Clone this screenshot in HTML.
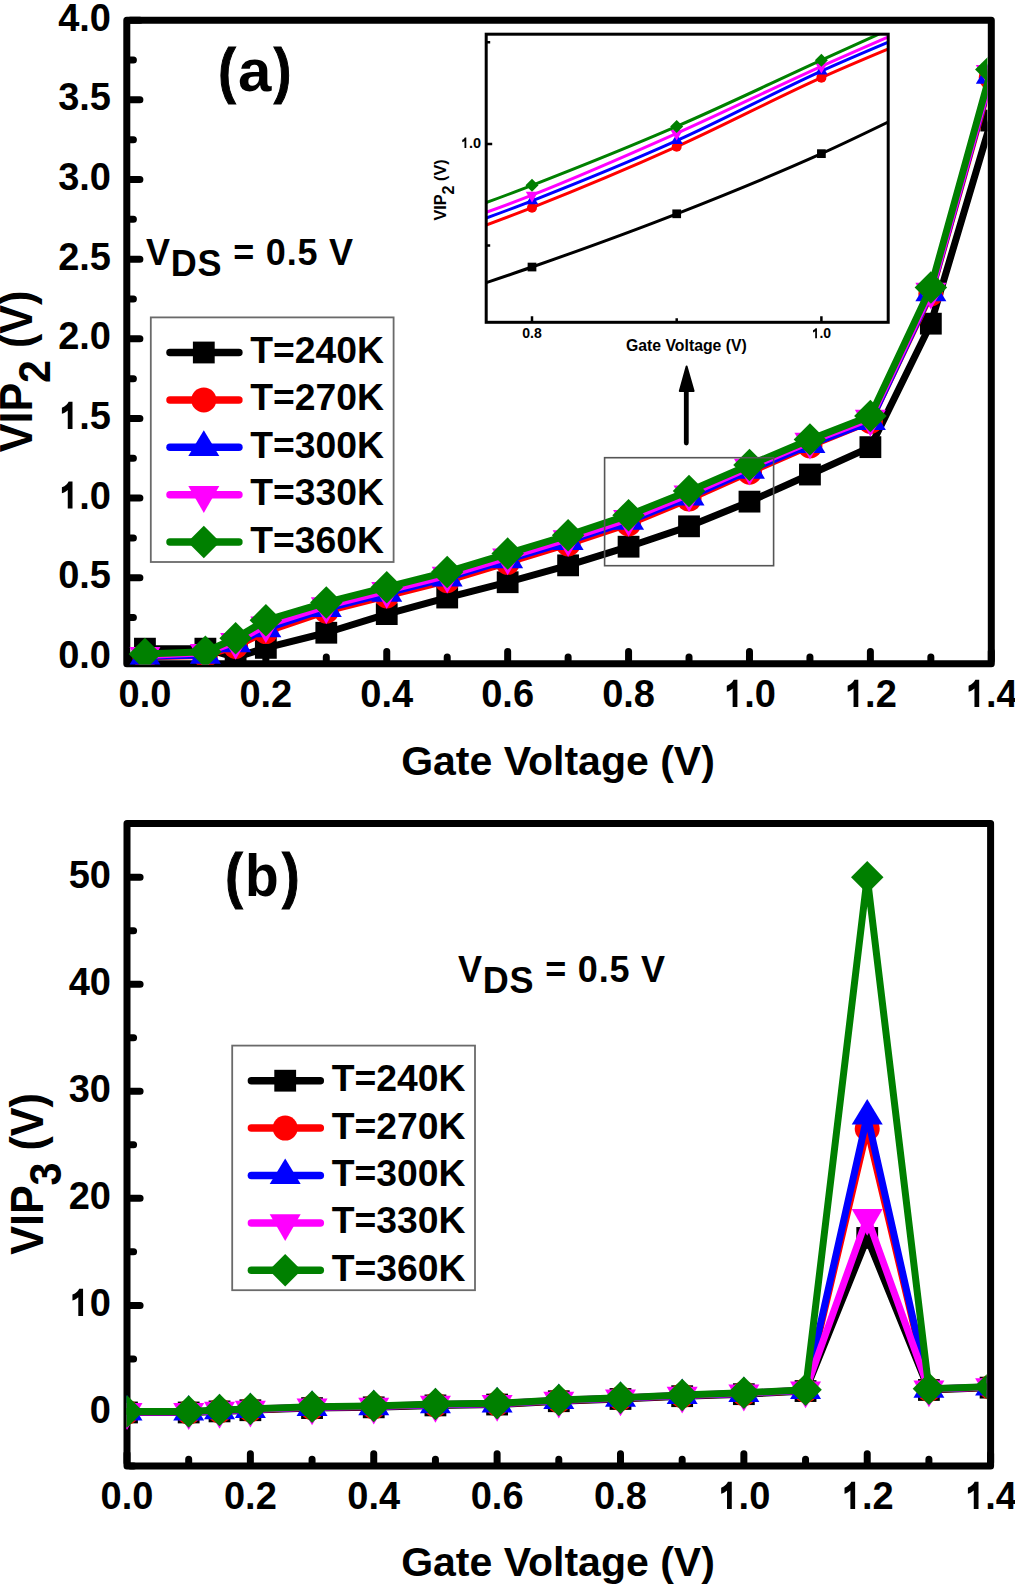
<!DOCTYPE html>
<html><head><meta charset="utf-8"><style>
html,body{margin:0;padding:0;background:#fff;}
svg{display:block;}
text{font-family:"Liberation Sans",sans-serif;font-weight:bold;}
</style></head><body>
<svg width="1015" height="1587" viewBox="0 0 1015 1587">
<rect width="1015" height="1587" fill="#fff"/>
<path d="M144.94,660.30v-8.8 M205.39,660.30v-3.3 M265.85,660.30v-8.8 M326.30,660.30v-3.3 M386.75,660.30v-8.8 M447.21,660.30v-3.3 M507.66,660.30v-8.8 M568.12,660.30v-3.3 M628.57,660.30v-8.8 M689.03,660.30v-3.3 M749.48,660.30v-8.8 M809.94,660.30v-3.3 M870.39,660.30v-8.8 M930.85,660.30v-3.3 M991.30,660.30v-8.8 M130.30,657.43h9.6 M130.30,617.60h3.1 M130.30,577.77h9.6 M130.30,537.95h3.1 M130.30,498.12h9.6 M130.30,458.29h3.1 M130.30,418.47h9.6 M130.30,378.64h3.1 M130.30,338.81h9.6 M130.30,298.99h3.1 M130.30,259.16h9.6 M130.30,219.33h3.1 M130.30,179.51h9.6 M130.30,139.68h3.1 M130.30,99.85h9.6 M130.30,60.03h3.1 M130.30,20.20h9.6" stroke="#000" stroke-width="7" stroke-linecap="round" fill="none"/>
<rect x="126.8" y="20.2" width="864.5" height="643.5999999999999" fill="none" stroke="#000" stroke-width="7" stroke-linejoin="round"/>
<clipPath id="ca"><rect x="126.1" y="23.7" width="861.3" height="640.9999999999999"/></clipPath>
<g clip-path="url(#ca)">
<polyline points="144.94,648.67 205.39,648.67 235.62,657.43 265.85,647.87 326.30,632.74 386.75,614.10 447.21,597.53 507.66,582.23 568.12,565.35 628.57,546.71 689.03,526.32 749.48,501.63 809.94,474.54 870.39,447.14 930.85,323.68 991.30,120.56" fill="none" stroke="#000000" stroke-width="7" stroke-linejoin="round" stroke-linecap="round"/>
<rect x="134.04" y="637.77" width="21.80" height="21.80" fill="#000000"/>
<rect x="194.49" y="637.77" width="21.80" height="21.80" fill="#000000"/>
<rect x="224.72" y="646.53" width="21.80" height="21.80" fill="#000000"/>
<rect x="254.95" y="636.97" width="21.80" height="21.80" fill="#000000"/>
<rect x="315.40" y="621.84" width="21.80" height="21.80" fill="#000000"/>
<rect x="375.85" y="603.20" width="21.80" height="21.80" fill="#000000"/>
<rect x="436.31" y="586.63" width="21.80" height="21.80" fill="#000000"/>
<rect x="496.76" y="571.33" width="21.80" height="21.80" fill="#000000"/>
<rect x="557.22" y="554.45" width="21.80" height="21.80" fill="#000000"/>
<rect x="617.67" y="535.81" width="21.80" height="21.80" fill="#000000"/>
<rect x="678.13" y="515.42" width="21.80" height="21.80" fill="#000000"/>
<rect x="738.58" y="490.73" width="21.80" height="21.80" fill="#000000"/>
<rect x="799.04" y="463.64" width="21.80" height="21.80" fill="#000000"/>
<rect x="859.49" y="436.24" width="21.80" height="21.80" fill="#000000"/>
<rect x="919.95" y="312.78" width="21.80" height="21.80" fill="#000000"/>
<rect x="980.40" y="109.66" width="21.80" height="21.80" fill="#000000"/>
<polyline points="144.94,656.63 205.39,655.52 235.62,646.44 265.85,631.62 326.30,611.23 386.75,595.94 447.21,580.64 507.66,562.32 568.12,544.00 628.57,523.93 689.03,499.08 749.48,472.15 809.94,445.87 870.39,421.33 930.85,293.89 991.30,77.55" fill="none" stroke="#ff0000" stroke-width="7" stroke-linejoin="round" stroke-linecap="round"/>
<circle cx="144.94" cy="656.63" r="12.50" fill="#ff0000"/>
<circle cx="205.39" cy="655.52" r="12.50" fill="#ff0000"/>
<circle cx="235.62" cy="646.44" r="12.50" fill="#ff0000"/>
<circle cx="265.85" cy="631.62" r="12.50" fill="#ff0000"/>
<circle cx="326.30" cy="611.23" r="12.50" fill="#ff0000"/>
<circle cx="386.75" cy="595.94" r="12.50" fill="#ff0000"/>
<circle cx="447.21" cy="580.64" r="12.50" fill="#ff0000"/>
<circle cx="507.66" cy="562.32" r="12.50" fill="#ff0000"/>
<circle cx="568.12" cy="544.00" r="12.50" fill="#ff0000"/>
<circle cx="628.57" cy="523.93" r="12.50" fill="#ff0000"/>
<circle cx="689.03" cy="499.08" r="12.50" fill="#ff0000"/>
<circle cx="749.48" cy="472.15" r="12.50" fill="#ff0000"/>
<circle cx="809.94" cy="445.87" r="12.50" fill="#ff0000"/>
<circle cx="870.39" cy="421.33" r="12.50" fill="#ff0000"/>
<circle cx="930.85" cy="293.89" r="12.50" fill="#ff0000"/>
<circle cx="991.30" cy="77.55" r="12.50" fill="#ff0000"/>
<polyline points="144.94,656.15 205.39,655.04 235.62,643.57 265.85,628.59 326.30,608.52 386.75,593.23 447.21,577.93 507.66,559.61 568.12,541.29 628.57,521.22 689.03,496.85 749.48,470.08 809.94,444.43 870.39,421.33 930.85,292.61 991.30,75.16" fill="none" stroke="#0000ff" stroke-width="7" stroke-linejoin="round" stroke-linecap="round"/>
<polygon points="144.94,639.15 160.44,664.75 129.44,664.75" fill="#0000ff"/>
<polygon points="205.39,638.04 220.89,663.64 189.89,663.64" fill="#0000ff"/>
<polygon points="235.62,626.57 251.12,652.17 220.12,652.17" fill="#0000ff"/>
<polygon points="265.85,611.59 281.35,637.19 250.35,637.19" fill="#0000ff"/>
<polygon points="326.30,591.52 341.80,617.12 310.80,617.12" fill="#0000ff"/>
<polygon points="386.75,576.23 402.25,601.83 371.25,601.83" fill="#0000ff"/>
<polygon points="447.21,560.93 462.71,586.53 431.71,586.53" fill="#0000ff"/>
<polygon points="507.66,542.61 523.16,568.21 492.16,568.21" fill="#0000ff"/>
<polygon points="568.12,524.29 583.62,549.89 552.62,549.89" fill="#0000ff"/>
<polygon points="628.57,504.22 644.07,529.82 613.07,529.82" fill="#0000ff"/>
<polygon points="689.03,479.85 704.53,505.45 673.53,505.45" fill="#0000ff"/>
<polygon points="749.48,453.08 764.98,478.68 733.98,478.68" fill="#0000ff"/>
<polygon points="809.94,427.43 825.44,453.03 794.44,453.03" fill="#0000ff"/>
<polygon points="870.39,404.33 885.89,429.93 854.89,429.93" fill="#0000ff"/>
<polygon points="930.85,275.61 946.35,301.21 915.35,301.21" fill="#0000ff"/>
<polygon points="991.30,58.16 1006.80,83.76 975.80,83.76" fill="#0000ff"/>
<polyline points="144.94,655.52 205.39,652.65 235.62,641.66 265.85,625.09 326.30,605.97 386.75,590.68 447.21,575.38 507.66,557.06 568.12,538.74 628.57,518.67 689.03,493.98 749.48,467.37 809.94,441.41 870.39,418.47 930.85,291.34 991.30,73.57" fill="none" stroke="#ff00ff" stroke-width="7" stroke-linejoin="round" stroke-linecap="round"/>
<polygon points="129.44,646.92 160.44,646.92 144.94,673.72" fill="#ff00ff"/>
<polygon points="189.89,644.05 220.89,644.05 205.39,670.85" fill="#ff00ff"/>
<polygon points="220.12,633.06 251.12,633.06 235.62,659.86" fill="#ff00ff"/>
<polygon points="250.35,616.49 281.35,616.49 265.85,643.29" fill="#ff00ff"/>
<polygon points="310.80,597.37 341.80,597.37 326.30,624.17" fill="#ff00ff"/>
<polygon points="371.25,582.08 402.25,582.08 386.75,608.88" fill="#ff00ff"/>
<polygon points="431.71,566.78 462.71,566.78 447.21,593.58" fill="#ff00ff"/>
<polygon points="492.16,548.46 523.16,548.46 507.66,575.26" fill="#ff00ff"/>
<polygon points="552.62,530.14 583.62,530.14 568.12,556.94" fill="#ff00ff"/>
<polygon points="613.07,510.07 644.07,510.07 628.57,536.87" fill="#ff00ff"/>
<polygon points="673.53,485.38 704.53,485.38 689.03,512.18" fill="#ff00ff"/>
<polygon points="733.98,458.77 764.98,458.77 749.48,485.57" fill="#ff00ff"/>
<polygon points="794.44,432.81 825.44,432.81 809.94,459.61" fill="#ff00ff"/>
<polygon points="854.89,409.87 885.89,409.87 870.39,436.67" fill="#ff00ff"/>
<polygon points="915.35,282.74 946.35,282.74 930.85,309.54" fill="#ff00ff"/>
<polygon points="975.80,64.97 1006.80,64.97 991.30,91.77" fill="#ff00ff"/>
<polyline points="144.94,653.92 205.39,651.69 235.62,638.31 265.85,620.31 326.30,602.47 386.75,587.17 447.21,571.88 507.66,553.56 568.12,535.24 628.57,515.17 689.03,491.11 749.48,464.98 809.94,439.50 870.39,416.08 930.85,287.52 991.30,69.59" fill="none" stroke="#008000" stroke-width="7" stroke-linejoin="round" stroke-linecap="round"/>
<polygon points="144.94,637.67 161.19,653.92 144.94,670.17 128.69,653.92" fill="#008000"/>
<polygon points="205.39,635.44 221.64,651.69 205.39,667.94 189.14,651.69" fill="#008000"/>
<polygon points="235.62,622.06 251.87,638.31 235.62,654.56 219.37,638.31" fill="#008000"/>
<polygon points="265.85,604.06 282.10,620.31 265.85,636.56 249.60,620.31" fill="#008000"/>
<polygon points="326.30,586.22 342.55,602.47 326.30,618.72 310.05,602.47" fill="#008000"/>
<polygon points="386.75,570.92 403.00,587.17 386.75,603.42 370.50,587.17" fill="#008000"/>
<polygon points="447.21,555.63 463.46,571.88 447.21,588.13 430.96,571.88" fill="#008000"/>
<polygon points="507.66,537.31 523.91,553.56 507.66,569.81 491.41,553.56" fill="#008000"/>
<polygon points="568.12,518.99 584.37,535.24 568.12,551.49 551.87,535.24" fill="#008000"/>
<polygon points="628.57,498.92 644.82,515.17 628.57,531.42 612.32,515.17" fill="#008000"/>
<polygon points="689.03,474.86 705.28,491.11 689.03,507.36 672.78,491.11" fill="#008000"/>
<polygon points="749.48,448.73 765.73,464.98 749.48,481.23 733.23,464.98" fill="#008000"/>
<polygon points="809.94,423.25 826.19,439.50 809.94,455.75 793.69,439.50" fill="#008000"/>
<polygon points="870.39,399.83 886.64,416.08 870.39,432.33 854.14,416.08" fill="#008000"/>
<polygon points="930.85,271.27 947.10,287.52 930.85,303.77 914.60,287.52" fill="#008000"/>
<polygon points="991.30,53.34 1007.55,69.59 991.30,85.84 975.05,69.59" fill="#008000"/>
</g>
<text x="144.94" y="707.00" font-size="38" text-anchor="middle">0.0</text>
<text x="265.85" y="707.00" font-size="38" text-anchor="middle">0.2</text>
<text x="386.75" y="707.00" font-size="38" text-anchor="middle">0.4</text>
<text x="507.66" y="707.00" font-size="38" text-anchor="middle">0.6</text>
<text x="628.57" y="707.00" font-size="38" text-anchor="middle">0.8</text>
<path d="M737.39,707.00 L732.64,707.00 L732.64,688.45 C731.05,689.84 729.01,691.04 726.78,691.69 L726.78,685.66 C728.45,685.01 730.12,683.99 731.42,682.79 C732.44,681.77 733.09,680.65 733.55,679.80 L737.39,679.80Z" fill="#000"/><text x="744.20" y="707.00" font-size="38">.0</text>
<path d="M858.30,707.00 L853.55,707.00 L853.55,688.45 C851.96,689.84 849.92,691.04 847.69,691.69 L847.69,685.66 C849.36,685.01 851.03,683.99 852.33,682.79 C853.35,681.77 854.00,680.65 854.46,679.80 L858.30,679.80Z" fill="#000"/><text x="865.11" y="707.00" font-size="38">.2</text>
<path d="M979.21,707.00 L974.46,707.00 L974.46,688.45 C972.87,689.84 970.82,691.04 968.60,691.69 L968.60,685.66 C970.27,685.01 971.94,683.99 973.24,682.79 C974.26,681.77 974.91,680.65 975.37,679.80 L979.21,679.80Z" fill="#000"/><text x="986.02" y="707.00" font-size="38">.4</text>
<text x="111.00" y="667.93" font-size="38" text-anchor="end">0.0</text>
<text x="111.00" y="588.27" font-size="38" text-anchor="end">0.5</text>
<path d="M72.50,508.62 L67.75,508.62 L67.75,490.07 C66.15,491.46 64.11,492.66 61.89,493.31 L61.89,487.28 C63.56,486.63 65.23,485.61 66.52,484.41 C67.54,483.39 68.19,482.27 68.66,481.42 L72.50,481.42Z" fill="#000"/><text x="79.31" y="508.62" font-size="38">.0</text>
<path d="M72.50,428.97 L67.75,428.97 L67.75,410.41 C66.15,411.80 64.11,413.01 61.89,413.66 L61.89,407.63 C63.56,406.98 65.23,405.96 66.52,404.75 C67.54,403.73 68.19,402.62 68.66,401.77 L72.50,401.77Z" fill="#000"/><text x="79.31" y="428.97" font-size="38">.5</text>
<text x="111.00" y="349.31" font-size="38" text-anchor="end">2.0</text>
<text x="111.00" y="269.66" font-size="38" text-anchor="end">2.5</text>
<text x="111.00" y="190.01" font-size="38" text-anchor="end">3.0</text>
<text x="111.00" y="110.35" font-size="38" text-anchor="end">3.5</text>
<text x="111.00" y="30.70" font-size="38" text-anchor="end">4.0</text>
<text x="558" y="775" font-size="41" text-anchor="middle">Gate Voltage (V)</text>
<text transform="translate(32,371.5) rotate(-90) scale(0.935,1)" font-size="46" text-anchor="middle">VIP<tspan font-size="44" dy="18">2</tspan><tspan dy="-18"> (V)</tspan></text>
<text transform="translate(218.2,91) scale(0.85,1)" font-size="62" font-weight="normal" stroke="#000" stroke-width="1.1">(</text><text x="238" y="91" font-size="60">a</text><text transform="translate(273.7,91) scale(0.85,1)" font-size="62" font-weight="normal" stroke="#000" stroke-width="1.1">)</text>
<text x="146" y="265" font-size="36" letter-spacing="0.8">V<tspan dy="11">DS</tspan><tspan dy="-11"> = 0.5 V</tspan></text>
<rect x="150.8" y="317.4" width="242.8" height="244.6" fill="#fff" stroke="#6a6a6a" stroke-width="1.8"/>
<line x1="170.0" y1="352.50" x2="238.9" y2="352.50" stroke="#000000" stroke-width="7.5" stroke-linecap="round"/>
<rect x="192.90" y="341.60" width="21.80" height="21.80" fill="#000000"/>
<text x="250.3" y="363.00" font-size="37.3">T=240K</text>
<line x1="170.0" y1="399.90" x2="238.9" y2="399.90" stroke="#ff0000" stroke-width="7.5" stroke-linecap="round"/>
<circle cx="203.80" cy="399.90" r="12.50" fill="#ff0000"/>
<text x="250.3" y="410.40" font-size="37.3">T=270K</text>
<line x1="170.0" y1="447.30" x2="238.9" y2="447.30" stroke="#0000ff" stroke-width="7.5" stroke-linecap="round"/>
<polygon points="203.80,430.30 219.30,455.90 188.30,455.90" fill="#0000ff"/>
<text x="250.3" y="457.80" font-size="37.3">T=300K</text>
<line x1="170.0" y1="494.70" x2="238.9" y2="494.70" stroke="#ff00ff" stroke-width="7.5" stroke-linecap="round"/>
<polygon points="188.30,486.10 219.30,486.10 203.80,512.90" fill="#ff00ff"/>
<text x="250.3" y="505.20" font-size="37.3">T=330K</text>
<line x1="170.0" y1="542.10" x2="238.9" y2="542.10" stroke="#008000" stroke-width="7.5" stroke-linecap="round"/>
<polygon points="203.80,525.85 220.05,542.10 203.80,558.35 187.55,542.10" fill="#008000"/>
<text x="250.3" y="552.60" font-size="37.3">T=360K</text>
<rect x="604.6" y="457.7" width="169" height="108" fill="none" stroke="#555" stroke-width="1.6"/>
<line x1="686.3" y1="443" x2="686.3" y2="388" stroke="#000" stroke-width="4.8" stroke-linecap="round"/>
<polygon points="686.6,366.5 693.6,391 679.8,391" fill="#000" stroke="#000" stroke-width="2" stroke-linejoin="round"/>
<clipPath id="ci"><rect x="486.2" y="34.2" width="402.00000000000006" height="288.1"/></clipPath>
<g clip-path="url(#ci)">
<path d="M387.30,315.40 C411.42,307.34 483.77,283.97 532.00,267.04 C580.23,250.11 628.47,232.70 676.70,213.80 C724.93,194.90 773.17,175.33 821.40,153.65 C869.63,131.98 941.98,95.40 966.10,83.75" fill="none" stroke="#000000" stroke-width="3"/>
<rect x="527.64" y="262.68" width="8.72" height="8.72" fill="#000000"/>
<rect x="672.34" y="209.44" width="8.72" height="8.72" fill="#000000"/>
<rect x="817.04" y="149.29" width="8.72" height="8.72" fill="#000000"/>
<path d="M387.30,260.94 C411.42,252.07 483.77,226.74 532.00,207.70 C580.23,188.67 628.47,168.42 676.70,146.74 C724.93,125.07 773.17,99.33 821.40,77.66 C869.63,55.98 941.98,26.86 966.10,16.70" fill="none" stroke="#ff0000" stroke-width="3"/>
<circle cx="532.00" cy="207.70" r="5.00" fill="#ff0000"/>
<circle cx="676.70" cy="146.74" r="5.00" fill="#ff0000"/>
<circle cx="821.40" cy="77.66" r="5.00" fill="#ff0000"/>
<path d="M387.30,254.03 C411.42,245.16 483.77,219.69 532.00,200.80 C580.23,181.90 628.47,162.26 676.70,140.65 C724.93,119.04 773.17,92.96 821.40,71.15 C869.63,49.34 941.98,20.02 966.10,9.79" fill="none" stroke="#0000ff" stroke-width="3"/>
<polygon points="532.00,194.00 538.20,204.24 525.80,204.24" fill="#0000ff"/>
<polygon points="676.70,133.85 682.90,144.09 670.50,144.09" fill="#0000ff"/>
<polygon points="821.40,64.35 827.60,74.59 815.20,74.59" fill="#0000ff"/>
<path d="M387.30,247.53 C411.42,238.79 483.77,214.14 532.00,195.11 C580.23,176.07 628.47,154.81 676.70,133.33 C724.93,111.86 773.17,87.95 821.40,66.28 C869.63,44.60 941.98,13.78 966.10,3.29" fill="none" stroke="#ff00ff" stroke-width="3"/>
<polygon points="525.80,191.67 538.20,191.67 532.00,202.39" fill="#ff00ff"/>
<polygon points="670.50,129.89 682.90,129.89 676.70,140.61" fill="#ff00ff"/>
<polygon points="815.20,62.84 827.60,62.84 821.40,73.56" fill="#ff00ff"/>
<path d="M387.30,238.59 C411.42,229.72 483.77,204.05 532.00,185.35 C580.23,166.66 628.47,147.29 676.70,126.42 C724.93,105.56 773.17,82.19 821.40,60.18 C869.63,38.17 941.98,5.32 966.10,-5.66" fill="none" stroke="#008000" stroke-width="3"/>
<polygon points="532.00,178.85 538.50,185.35 532.00,191.85 525.50,185.35" fill="#008000"/>
<polygon points="676.70,119.92 683.20,126.42 676.70,132.92 670.20,126.42" fill="#008000"/>
<polygon points="821.40,53.68 827.90,60.18 821.40,66.68 814.90,60.18" fill="#008000"/>
</g>
<path d="M532.00,322.3v-6 M676.70,322.3v-4 M821.40,322.3v-6 M486.2,143.90h6 M486.2,245.50h4 M486.2,42.30h4" stroke="#000" stroke-width="2.5"/>
<rect x="486.2" y="34.2" width="402.00000000000006" height="288.1" fill="none" stroke="#000" stroke-width="3"/>
<text x="532.00" y="338.2" font-size="14" text-anchor="middle">0.8</text>
<path d="M816.95,338.20 L815.20,338.20 L815.20,331.36 C814.61,331.88 813.86,332.32 813.04,332.56 L813.04,330.34 C813.65,330.10 814.27,329.72 814.75,329.28 C815.12,328.90 815.36,328.49 815.53,328.18 L816.95,328.18Z" fill="#000"/><text x="819.46" y="338.20" font-size="14">.0</text>
<path d="M466.31,148.00 L464.50,148.00 L464.50,140.92 C463.89,141.45 463.11,141.91 462.26,142.16 L462.26,139.86 C462.90,139.61 463.53,139.22 464.03,138.76 C464.42,138.37 464.67,137.95 464.84,137.62 L466.31,137.62Z" fill="#000"/><text x="468.91" y="148.00" font-size="14.5">.0</text>
<text x="686.4" y="351" font-size="15.8" text-anchor="middle">Gate Voltage (V)</text>
<text transform="translate(446,190) rotate(-90)" font-size="16.2" text-anchor="middle">VIP<tspan dy="7.6">2</tspan><tspan dy="-7.6"> (V)</tspan></text>
<path d="M127.00,1462.50v-8.8 M188.69,1462.50v-3.3 M250.37,1462.50v-8.8 M312.06,1462.50v-3.3 M373.74,1462.50v-8.8 M435.43,1462.50v-3.3 M497.11,1462.50v-8.8 M558.80,1462.50v-3.3 M620.49,1462.50v-8.8 M682.17,1462.50v-3.3 M743.86,1462.50v-8.8 M805.54,1462.50v-3.3 M867.23,1462.50v-8.8 M928.91,1462.50v-3.3 M990.60,1462.50v-8.8 M130.50,1466.00h3.1 M130.50,1412.47h9.6 M130.50,1358.93h3.1 M130.50,1305.40h9.6 M130.50,1251.87h3.1 M130.50,1198.33h9.6 M130.50,1144.80h3.1 M130.50,1091.27h9.6 M130.50,1037.73h3.1 M130.50,984.20h9.6 M130.50,930.67h3.1 M130.50,877.13h9.6" stroke="#000" stroke-width="7" stroke-linecap="round" fill="none"/>
<rect x="127.0" y="823.6" width="863.6" height="642.4" fill="none" stroke="#000" stroke-width="7" stroke-linejoin="round"/>
<clipPath id="cb"><rect x="126.3" y="827.1" width="860.4000000000001" height="639.8000000000001"/></clipPath>
<g clip-path="url(#cb)">
<polyline points="127.00,1412.47 188.69,1412.47 219.53,1411.40 250.37,1410.22 312.06,1408.08 373.74,1407.33 435.43,1405.40 497.11,1404.54 558.80,1401.22 620.49,1398.98 682.17,1396.19 743.86,1394.16 805.54,1391.05 867.23,1237.95 928.91,1389.98 990.60,1387.63" fill="none" stroke="#000000" stroke-width="7" stroke-linejoin="round" stroke-linecap="round"/>
<rect x="116.10" y="1401.57" width="21.80" height="21.80" fill="#000000"/>
<rect x="177.79" y="1401.57" width="21.80" height="21.80" fill="#000000"/>
<rect x="208.63" y="1400.50" width="21.80" height="21.80" fill="#000000"/>
<rect x="239.47" y="1399.32" width="21.80" height="21.80" fill="#000000"/>
<rect x="301.16" y="1397.18" width="21.80" height="21.80" fill="#000000"/>
<rect x="362.84" y="1396.43" width="21.80" height="21.80" fill="#000000"/>
<rect x="424.53" y="1394.50" width="21.80" height="21.80" fill="#000000"/>
<rect x="486.21" y="1393.64" width="21.80" height="21.80" fill="#000000"/>
<rect x="547.90" y="1390.32" width="21.80" height="21.80" fill="#000000"/>
<rect x="609.59" y="1388.08" width="21.80" height="21.80" fill="#000000"/>
<rect x="671.27" y="1385.29" width="21.80" height="21.80" fill="#000000"/>
<rect x="732.96" y="1383.26" width="21.80" height="21.80" fill="#000000"/>
<rect x="794.64" y="1380.15" width="21.80" height="21.80" fill="#000000"/>
<rect x="856.33" y="1227.05" width="21.80" height="21.80" fill="#000000"/>
<rect x="918.01" y="1379.08" width="21.80" height="21.80" fill="#000000"/>
<rect x="979.70" y="1376.73" width="21.80" height="21.80" fill="#000000"/>
<polyline points="127.00,1412.15 188.69,1412.15 219.53,1410.86 250.37,1409.68 312.06,1407.54 373.74,1406.79 435.43,1404.86 497.11,1404.01 558.80,1400.69 620.49,1398.44 682.17,1395.66 743.86,1393.62 805.54,1390.52 867.23,1128.74 928.91,1389.45 990.60,1387.20" fill="none" stroke="#ff0000" stroke-width="7" stroke-linejoin="round" stroke-linecap="round"/>
<circle cx="127.00" cy="1412.15" r="12.50" fill="#ff0000"/>
<circle cx="188.69" cy="1412.15" r="12.50" fill="#ff0000"/>
<circle cx="219.53" cy="1410.86" r="12.50" fill="#ff0000"/>
<circle cx="250.37" cy="1409.68" r="12.50" fill="#ff0000"/>
<circle cx="312.06" cy="1407.54" r="12.50" fill="#ff0000"/>
<circle cx="373.74" cy="1406.79" r="12.50" fill="#ff0000"/>
<circle cx="435.43" cy="1404.86" r="12.50" fill="#ff0000"/>
<circle cx="497.11" cy="1404.01" r="12.50" fill="#ff0000"/>
<circle cx="558.80" cy="1400.69" r="12.50" fill="#ff0000"/>
<circle cx="620.49" cy="1398.44" r="12.50" fill="#ff0000"/>
<circle cx="682.17" cy="1395.66" r="12.50" fill="#ff0000"/>
<circle cx="743.86" cy="1393.62" r="12.50" fill="#ff0000"/>
<circle cx="805.54" cy="1390.52" r="12.50" fill="#ff0000"/>
<circle cx="867.23" cy="1128.74" r="12.50" fill="#ff0000"/>
<circle cx="928.91" cy="1389.45" r="12.50" fill="#ff0000"/>
<circle cx="990.60" cy="1387.20" r="12.50" fill="#ff0000"/>
<polyline points="127.00,1411.93 188.69,1411.93 219.53,1410.65 250.37,1409.47 312.06,1407.33 373.74,1406.58 435.43,1404.65 497.11,1403.79 558.80,1400.48 620.49,1398.23 682.17,1395.44 743.86,1393.41 805.54,1390.30 867.23,1115.89 928.91,1389.23 990.60,1386.98" fill="none" stroke="#0000ff" stroke-width="7" stroke-linejoin="round" stroke-linecap="round"/>
<polygon points="127.00,1394.93 142.50,1420.53 111.50,1420.53" fill="#0000ff"/>
<polygon points="188.69,1394.93 204.19,1420.53 173.19,1420.53" fill="#0000ff"/>
<polygon points="219.53,1393.65 235.03,1419.25 204.03,1419.25" fill="#0000ff"/>
<polygon points="250.37,1392.47 265.87,1418.07 234.87,1418.07" fill="#0000ff"/>
<polygon points="312.06,1390.33 327.56,1415.93 296.56,1415.93" fill="#0000ff"/>
<polygon points="373.74,1389.58 389.24,1415.18 358.24,1415.18" fill="#0000ff"/>
<polygon points="435.43,1387.65 450.93,1413.25 419.93,1413.25" fill="#0000ff"/>
<polygon points="497.11,1386.79 512.61,1412.39 481.61,1412.39" fill="#0000ff"/>
<polygon points="558.80,1383.48 574.30,1409.08 543.30,1409.08" fill="#0000ff"/>
<polygon points="620.49,1381.23 635.99,1406.83 604.99,1406.83" fill="#0000ff"/>
<polygon points="682.17,1378.44 697.67,1404.04 666.67,1404.04" fill="#0000ff"/>
<polygon points="743.86,1376.41 759.36,1402.01 728.36,1402.01" fill="#0000ff"/>
<polygon points="805.54,1373.30 821.04,1398.90 790.04,1398.90" fill="#0000ff"/>
<polygon points="867.23,1098.89 882.73,1124.49 851.73,1124.49" fill="#0000ff"/>
<polygon points="928.91,1372.23 944.41,1397.83 913.41,1397.83" fill="#0000ff"/>
<polygon points="990.60,1369.98 1006.10,1395.58 975.10,1395.58" fill="#0000ff"/>
<polyline points="127.00,1411.72 188.69,1411.72 219.53,1410.43 250.37,1409.25 312.06,1407.11 373.74,1406.36 435.43,1404.44 497.11,1403.58 558.80,1400.26 620.49,1398.01 682.17,1395.23 743.86,1393.19 805.54,1390.09 867.23,1217.61 928.91,1389.02 990.60,1386.77" fill="none" stroke="#ff00ff" stroke-width="7" stroke-linejoin="round" stroke-linecap="round"/>
<polygon points="111.50,1403.12 142.50,1403.12 127.00,1429.92" fill="#ff00ff"/>
<polygon points="173.19,1403.12 204.19,1403.12 188.69,1429.92" fill="#ff00ff"/>
<polygon points="204.03,1401.83 235.03,1401.83 219.53,1428.63" fill="#ff00ff"/>
<polygon points="234.87,1400.65 265.87,1400.65 250.37,1427.45" fill="#ff00ff"/>
<polygon points="296.56,1398.51 327.56,1398.51 312.06,1425.31" fill="#ff00ff"/>
<polygon points="358.24,1397.76 389.24,1397.76 373.74,1424.56" fill="#ff00ff"/>
<polygon points="419.93,1395.84 450.93,1395.84 435.43,1422.64" fill="#ff00ff"/>
<polygon points="481.61,1394.98 512.61,1394.98 497.11,1421.78" fill="#ff00ff"/>
<polygon points="543.30,1391.66 574.30,1391.66 558.80,1418.46" fill="#ff00ff"/>
<polygon points="604.99,1389.41 635.99,1389.41 620.49,1416.21" fill="#ff00ff"/>
<polygon points="666.67,1386.63 697.67,1386.63 682.17,1413.43" fill="#ff00ff"/>
<polygon points="728.36,1384.59 759.36,1384.59 743.86,1411.39" fill="#ff00ff"/>
<polygon points="790.04,1381.49 821.04,1381.49 805.54,1408.29" fill="#ff00ff"/>
<polygon points="851.73,1209.01 882.73,1209.01 867.23,1235.81" fill="#ff00ff"/>
<polygon points="913.41,1380.42 944.41,1380.42 928.91,1407.22" fill="#ff00ff"/>
<polygon points="975.10,1378.17 1006.10,1378.17 990.60,1404.97" fill="#ff00ff"/>
<polyline points="127.00,1411.40 188.69,1411.40 219.53,1410.11 250.37,1408.93 312.06,1406.79 373.74,1406.04 435.43,1404.12 497.11,1403.26 558.80,1399.94 620.49,1397.69 682.17,1394.91 743.86,1392.87 805.54,1389.77 867.23,877.13 928.91,1388.80 990.60,1386.56" fill="none" stroke="#008000" stroke-width="7" stroke-linejoin="round" stroke-linecap="round"/>
<polygon points="127.00,1395.15 143.25,1411.40 127.00,1427.65 110.75,1411.40" fill="#008000"/>
<polygon points="188.69,1395.15 204.94,1411.40 188.69,1427.65 172.44,1411.40" fill="#008000"/>
<polygon points="219.53,1393.86 235.78,1410.11 219.53,1426.36 203.28,1410.11" fill="#008000"/>
<polygon points="250.37,1392.68 266.62,1408.93 250.37,1425.18 234.12,1408.93" fill="#008000"/>
<polygon points="312.06,1390.54 328.31,1406.79 312.06,1423.04 295.81,1406.79" fill="#008000"/>
<polygon points="373.74,1389.79 389.99,1406.04 373.74,1422.29 357.49,1406.04" fill="#008000"/>
<polygon points="435.43,1387.87 451.68,1404.12 435.43,1420.37 419.18,1404.12" fill="#008000"/>
<polygon points="497.11,1387.01 513.36,1403.26 497.11,1419.51 480.86,1403.26" fill="#008000"/>
<polygon points="558.80,1383.69 575.05,1399.94 558.80,1416.19 542.55,1399.94" fill="#008000"/>
<polygon points="620.49,1381.44 636.74,1397.69 620.49,1413.94 604.24,1397.69" fill="#008000"/>
<polygon points="682.17,1378.66 698.42,1394.91 682.17,1411.16 665.92,1394.91" fill="#008000"/>
<polygon points="743.86,1376.62 760.11,1392.87 743.86,1409.12 727.61,1392.87" fill="#008000"/>
<polygon points="805.54,1373.52 821.79,1389.77 805.54,1406.02 789.29,1389.77" fill="#008000"/>
<polygon points="867.23,860.88 883.48,877.13 867.23,893.38 850.98,877.13" fill="#008000"/>
<polygon points="928.91,1372.55 945.16,1388.80 928.91,1405.05 912.66,1388.80" fill="#008000"/>
<polygon points="990.60,1370.31 1006.85,1386.56 990.60,1402.81 974.35,1386.56" fill="#008000"/>
</g>
<text x="127.00" y="1509.00" font-size="38" text-anchor="middle">0.0</text>
<text x="250.37" y="1509.00" font-size="38" text-anchor="middle">0.2</text>
<text x="373.74" y="1509.00" font-size="38" text-anchor="middle">0.4</text>
<text x="497.11" y="1509.00" font-size="38" text-anchor="middle">0.6</text>
<text x="620.49" y="1509.00" font-size="38" text-anchor="middle">0.8</text>
<path d="M731.77,1509.00 L727.02,1509.00 L727.02,1490.45 C725.42,1491.84 723.38,1493.04 721.16,1493.69 L721.16,1487.66 C722.83,1487.01 724.50,1485.99 725.79,1484.79 C726.81,1483.77 727.46,1482.65 727.93,1481.80 L731.77,1481.80Z" fill="#000"/><text x="738.58" y="1509.00" font-size="38">.0</text>
<path d="M855.14,1509.00 L850.39,1509.00 L850.39,1490.45 C848.79,1491.84 846.75,1493.04 844.53,1493.69 L844.53,1487.66 C846.20,1487.01 847.87,1485.99 849.17,1484.79 C850.19,1483.77 850.84,1482.65 851.30,1481.80 L855.14,1481.80Z" fill="#000"/><text x="861.95" y="1509.00" font-size="38">.2</text>
<path d="M978.51,1509.00 L973.76,1509.00 L973.76,1490.45 C972.17,1491.84 970.12,1493.04 967.90,1493.69 L967.90,1487.66 C969.57,1487.01 971.24,1485.99 972.54,1484.79 C973.56,1483.77 974.21,1482.65 974.67,1481.80 L978.51,1481.80Z" fill="#000"/><text x="985.32" y="1509.00" font-size="38">.4</text>
<text x="111.00" y="1422.97" font-size="38" text-anchor="end">0</text>
<path d="M83.06,1315.90 L78.31,1315.90 L78.31,1297.35 C76.71,1298.74 74.67,1299.94 72.44,1300.59 L72.44,1294.56 C74.11,1293.91 75.78,1292.89 77.08,1291.69 C78.10,1290.67 78.75,1289.55 79.22,1288.70 L83.06,1288.70Z" fill="#000"/><text x="89.87" y="1315.90" font-size="38">0</text>
<text x="111.00" y="1208.83" font-size="38" text-anchor="end">20</text>
<text x="111.00" y="1101.77" font-size="38" text-anchor="end">30</text>
<text x="111.00" y="994.70" font-size="38" text-anchor="end">40</text>
<text x="111.00" y="887.63" font-size="38" text-anchor="end">50</text>
<text x="558" y="1576.4" font-size="41" text-anchor="middle">Gate Voltage (V)</text>
<text transform="translate(42.5,1174) rotate(-90) scale(0.935,1)" font-size="46" text-anchor="middle">VIP<tspan font-size="44" dy="18">3</tspan><tspan dy="-18"> (V)</tspan></text>
<text transform="translate(225.3,896) scale(0.85,1)" font-size="62" font-weight="normal" stroke="#000" stroke-width="1.1">(</text><text x="245" y="896" font-size="60" transform="translate(245,896) scale(0.92,1) translate(-245,-896)">b</text><text transform="translate(282,896) scale(0.85,1)" font-size="62" font-weight="normal" stroke="#000" stroke-width="1.1">)</text>
<text x="458" y="982" font-size="36" letter-spacing="0.8">V<tspan dy="11">DS</tspan><tspan dy="-11"> = 0.5 V</tspan></text>
<rect x="232.2" y="1045.6" width="242.8" height="244.6" fill="#fff" stroke="#6a6a6a" stroke-width="1.8"/>
<line x1="251.39999999999998" y1="1080.70" x2="320.29999999999995" y2="1080.70" stroke="#000000" stroke-width="7.5" stroke-linecap="round"/>
<rect x="274.30" y="1069.80" width="21.80" height="21.80" fill="#000000"/>
<text x="331.7" y="1091.20" font-size="37.3">T=240K</text>
<line x1="251.39999999999998" y1="1128.10" x2="320.29999999999995" y2="1128.10" stroke="#ff0000" stroke-width="7.5" stroke-linecap="round"/>
<circle cx="285.20" cy="1128.10" r="12.50" fill="#ff0000"/>
<text x="331.7" y="1138.60" font-size="37.3">T=270K</text>
<line x1="251.39999999999998" y1="1175.50" x2="320.29999999999995" y2="1175.50" stroke="#0000ff" stroke-width="7.5" stroke-linecap="round"/>
<polygon points="285.20,1158.50 300.70,1184.10 269.70,1184.10" fill="#0000ff"/>
<text x="331.7" y="1186.00" font-size="37.3">T=300K</text>
<line x1="251.39999999999998" y1="1222.90" x2="320.29999999999995" y2="1222.90" stroke="#ff00ff" stroke-width="7.5" stroke-linecap="round"/>
<polygon points="269.70,1214.30 300.70,1214.30 285.20,1241.10" fill="#ff00ff"/>
<text x="331.7" y="1233.40" font-size="37.3">T=330K</text>
<line x1="251.39999999999998" y1="1270.30" x2="320.29999999999995" y2="1270.30" stroke="#008000" stroke-width="7.5" stroke-linecap="round"/>
<polygon points="285.20,1254.05 301.45,1270.30 285.20,1286.55 268.95,1270.30" fill="#008000"/>
<text x="331.7" y="1280.80" font-size="37.3">T=360K</text>
</svg></body></html>
